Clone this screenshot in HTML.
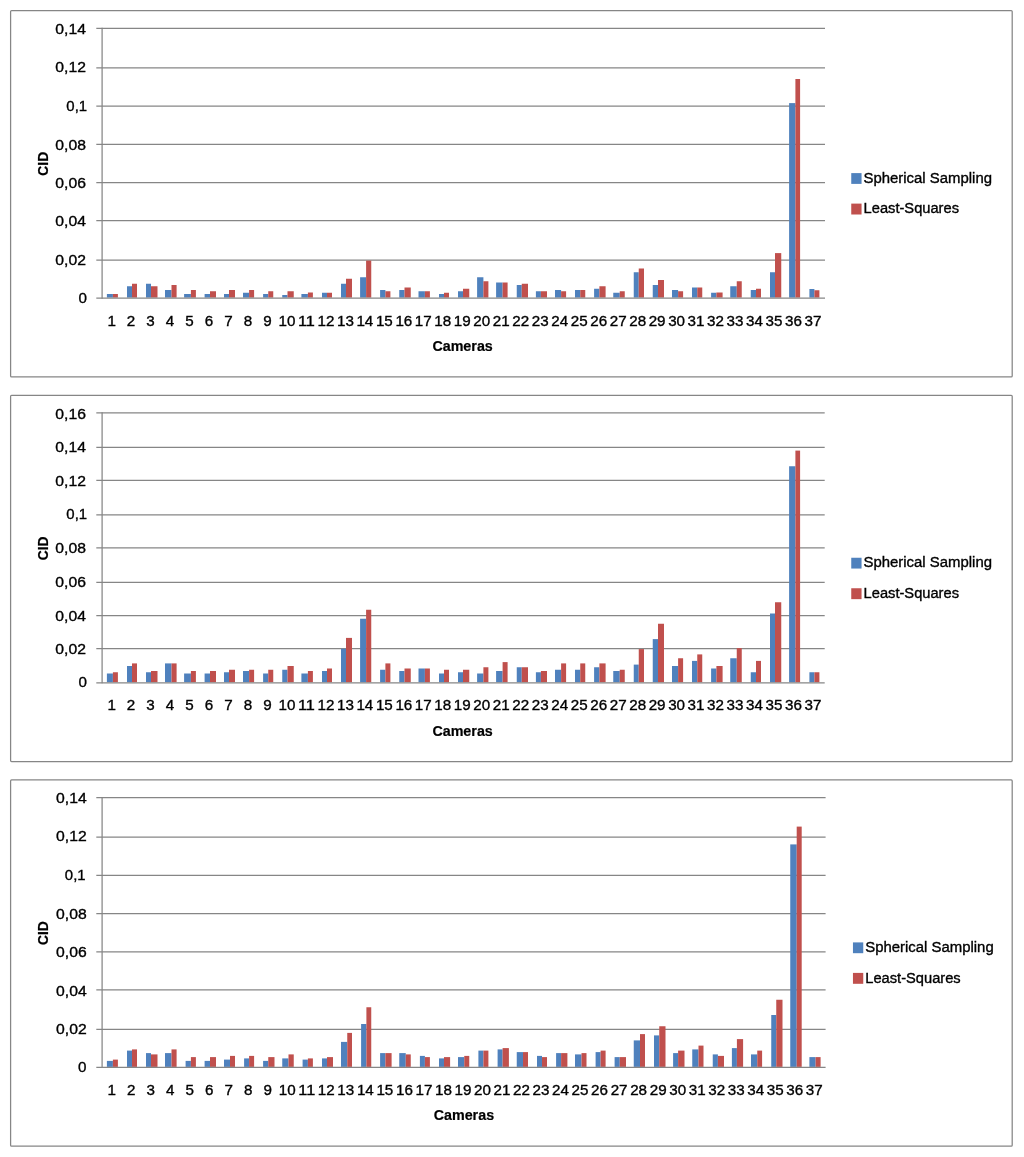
<!DOCTYPE html>
<html lang="en"><head><meta charset="utf-8"><title>CID per camera</title>
<style>
html,body{margin:0;padding:0;background:#fff}
body{width:1024px;height:1157px;overflow:hidden}
svg{display:block}
text{font-family:"Liberation Sans",sans-serif;font-size:14.7px;fill:#000;stroke:#000;stroke-width:0.35px}
.b{stroke-width:0.2px}
.b{font-weight:bold}
.g line,.g rect{stroke:#868686;stroke-width:1.25;fill:none}
.s1 rect{fill:#4F81BD}
.s2 rect{fill:#C0504D}
</style></head><body>
<svg width="1024" height="1157" viewBox="0 0 1024 1157">
<rect width="1024" height="1157" fill="#fff"/>
<g id="chart1">
<g class="g">
<rect x="10.6" y="10.6" width="1001.6" height="366.3" rx="1"/>
<line x1="96.3" y1="28.3" x2="825" y2="28.3"/>
<line x1="96.3" y1="67.8" x2="825" y2="67.8"/>
<line x1="96.3" y1="106.1" x2="825" y2="106.1"/>
<line x1="96.3" y1="144.25" x2="825" y2="144.25"/>
<line x1="96.3" y1="182.5" x2="825" y2="182.5"/>
<line x1="96.3" y1="220.6" x2="825" y2="220.6"/>
<line x1="96.3" y1="260.1" x2="825" y2="260.1"/>
<line x1="102.1" y1="27.7" x2="102.1" y2="298.7"/>
</g>
<g class="s1"><rect x="106.9" y="294" width="6" height="3.6"/><rect x="127" y="286.25" width="5" height="11.35"/><rect x="146" y="283.75" width="5" height="13.85"/><rect x="165" y="290" width="6.5" height="7.6"/><rect x="184.1" y="294" width="6.8" height="3.6"/><rect x="204.6" y="294" width="5.4" height="3.6"/><rect x="224" y="294" width="5" height="3.6"/><rect x="243" y="292.75" width="6.1" height="4.85"/><rect x="263.1" y="294" width="5.15" height="3.6"/><rect x="282.25" y="295" width="5.25" height="2.6"/><rect x="301.4" y="294" width="6.5" height="3.6"/><rect x="322" y="292.75" width="5" height="4.85"/><rect x="341" y="283.75" width="5" height="13.85"/><rect x="360.1" y="277.25" width="6" height="20.35"/><rect x="380.1" y="290" width="5.3" height="7.6"/><rect x="399.25" y="290" width="5.25" height="7.6"/><rect x="418.5" y="291.25" width="6.4" height="6.35"/><rect x="439" y="294" width="5" height="3.6"/><rect x="458" y="291.25" width="5" height="6.35"/><rect x="477.1" y="277.25" width="6.3" height="20.35"/><rect x="496.1" y="282.5" width="6.5" height="15.1"/><rect x="516.75" y="285" width="5" height="12.6"/><rect x="535.9" y="291.25" width="5" height="6.35"/><rect x="555" y="290" width="6.1" height="7.6"/><rect x="575" y="290" width="5.25" height="7.6"/><rect x="594.1" y="288.75" width="5.3" height="8.85"/><rect x="613.25" y="292.75" width="6.5" height="4.85"/><rect x="633.75" y="272.25" width="5" height="25.35"/><rect x="652.75" y="285" width="5.25" height="12.6"/><rect x="672" y="290" width="6.1" height="7.6"/><rect x="692" y="287.5" width="5.25" height="10.1"/><rect x="711.1" y="292.75" width="5.3" height="4.85"/><rect x="730.25" y="286.25" width="6.5" height="11.35"/><rect x="750.75" y="290" width="5.25" height="7.6"/><rect x="770" y="272.25" width="5" height="25.35"/><rect x="789.1" y="103.1" width="6.3" height="194.5"/><rect x="809.4" y="289" width="5" height="8.6"/></g>
<g class="s2"><rect x="112.9" y="294" width="5" height="3.6"/><rect x="132" y="283.75" width="5" height="13.85"/><rect x="151" y="286.25" width="6.5" height="11.35"/><rect x="171.5" y="285" width="5.1" height="12.6"/><rect x="190.9" y="290" width="5" height="7.6"/><rect x="210" y="291.25" width="6" height="6.35"/><rect x="229" y="290" width="6" height="7.6"/><rect x="249.1" y="290" width="5" height="7.6"/><rect x="268.25" y="291.25" width="5" height="6.35"/><rect x="287.5" y="291.25" width="6.25" height="6.35"/><rect x="307.9" y="292.5" width="5" height="5.1"/><rect x="327" y="292.75" width="5" height="4.85"/><rect x="346" y="278.75" width="6" height="18.85"/><rect x="366.1" y="260.6" width="5.15" height="37"/><rect x="385.4" y="291.25" width="5" height="6.35"/><rect x="404.5" y="287.5" width="6.25" height="10.1"/><rect x="424.9" y="291.25" width="5" height="6.35"/><rect x="444" y="292.75" width="5" height="4.85"/><rect x="463" y="288.75" width="6.25" height="8.85"/><rect x="483.4" y="281.25" width="5" height="16.35"/><rect x="502.6" y="282.5" width="5" height="15.1"/><rect x="521.75" y="283.75" width="6.25" height="13.85"/><rect x="540.9" y="291.25" width="6.1" height="6.35"/><rect x="561.1" y="291.25" width="5" height="6.35"/><rect x="580.25" y="290" width="5" height="7.6"/><rect x="599.4" y="286.25" width="6.2" height="11.35"/><rect x="619.75" y="291.25" width="5" height="6.35"/><rect x="638.75" y="268.5" width="5.25" height="29.1"/><rect x="658" y="280" width="6" height="17.6"/><rect x="678.1" y="291.25" width="5" height="6.35"/><rect x="697.25" y="287.5" width="5" height="10.1"/><rect x="716.4" y="292.5" width="6.2" height="5.1"/><rect x="736.75" y="281.25" width="5" height="16.35"/><rect x="756" y="288.75" width="5" height="8.85"/><rect x="775" y="253.1" width="6.25" height="44.5"/><rect x="795.4" y="79" width="4.7" height="218.6"/><rect x="814.4" y="290.25" width="5" height="7.35"/></g>
<g class="g"><line x1="96.3" y1="298.1" x2="825" y2="298.1"/></g>
<g text-anchor="end">
<text x="85.9" y="34" textLength="30.6" lengthAdjust="spacingAndGlyphs">0,14</text>
<text x="85.9" y="72.3" textLength="30.6" lengthAdjust="spacingAndGlyphs">0,12</text>
<text x="87.1" y="110.6" textLength="20.75" lengthAdjust="spacingAndGlyphs">0,1</text>
<text x="85.9" y="149.9" textLength="30.6" lengthAdjust="spacingAndGlyphs">0,08</text>
<text x="85.9" y="187.8" textLength="30.6" lengthAdjust="spacingAndGlyphs">0,06</text>
<text x="85.9" y="226.25" textLength="30.6" lengthAdjust="spacingAndGlyphs">0,04</text>
<text x="85.9" y="264.75" textLength="30.6" lengthAdjust="spacingAndGlyphs">0,02</text>
<text x="87" y="302.5" textLength="8.45" lengthAdjust="spacingAndGlyphs">0</text>
</g>
<g text-anchor="middle">
<text x="111.6" y="325.6" textLength="8.45" lengthAdjust="spacingAndGlyphs">1</text>
<text x="131.08" y="325.6" textLength="8.45" lengthAdjust="spacingAndGlyphs">2</text>
<text x="150.57" y="325.6" textLength="8.45" lengthAdjust="spacingAndGlyphs">3</text>
<text x="170.05" y="325.6" textLength="8.45" lengthAdjust="spacingAndGlyphs">4</text>
<text x="189.53" y="325.6" textLength="8.45" lengthAdjust="spacingAndGlyphs">5</text>
<text x="209.02" y="325.6" textLength="8.45" lengthAdjust="spacingAndGlyphs">6</text>
<text x="228.5" y="325.6" textLength="8.45" lengthAdjust="spacingAndGlyphs">7</text>
<text x="247.98" y="325.6" textLength="8.45" lengthAdjust="spacingAndGlyphs">8</text>
<text x="267.47" y="325.6" textLength="8.45" lengthAdjust="spacingAndGlyphs">9</text>
<text x="286.95" y="325.6" textLength="16.9" lengthAdjust="spacingAndGlyphs">10</text>
<text x="306.43" y="325.6" textLength="16.9" lengthAdjust="spacingAndGlyphs">11</text>
<text x="325.91" y="325.6" textLength="16.9" lengthAdjust="spacingAndGlyphs">12</text>
<text x="345.4" y="325.6" textLength="16.9" lengthAdjust="spacingAndGlyphs">13</text>
<text x="364.88" y="325.6" textLength="16.9" lengthAdjust="spacingAndGlyphs">14</text>
<text x="384.36" y="325.6" textLength="16.9" lengthAdjust="spacingAndGlyphs">15</text>
<text x="403.85" y="325.6" textLength="16.9" lengthAdjust="spacingAndGlyphs">16</text>
<text x="423.33" y="325.6" textLength="16.9" lengthAdjust="spacingAndGlyphs">17</text>
<text x="442.81" y="325.6" textLength="16.9" lengthAdjust="spacingAndGlyphs">18</text>
<text x="462.3" y="325.6" textLength="16.9" lengthAdjust="spacingAndGlyphs">19</text>
<text x="481.78" y="325.6" textLength="16.9" lengthAdjust="spacingAndGlyphs">20</text>
<text x="501.26" y="325.6" textLength="16.9" lengthAdjust="spacingAndGlyphs">21</text>
<text x="520.74" y="325.6" textLength="16.9" lengthAdjust="spacingAndGlyphs">22</text>
<text x="540.23" y="325.6" textLength="16.9" lengthAdjust="spacingAndGlyphs">23</text>
<text x="559.71" y="325.6" textLength="16.9" lengthAdjust="spacingAndGlyphs">24</text>
<text x="579.19" y="325.6" textLength="16.9" lengthAdjust="spacingAndGlyphs">25</text>
<text x="598.68" y="325.6" textLength="16.9" lengthAdjust="spacingAndGlyphs">26</text>
<text x="618.16" y="325.6" textLength="16.9" lengthAdjust="spacingAndGlyphs">27</text>
<text x="637.64" y="325.6" textLength="16.9" lengthAdjust="spacingAndGlyphs">28</text>
<text x="657.13" y="325.6" textLength="16.9" lengthAdjust="spacingAndGlyphs">29</text>
<text x="676.61" y="325.6" textLength="16.9" lengthAdjust="spacingAndGlyphs">30</text>
<text x="696.09" y="325.6" textLength="16.9" lengthAdjust="spacingAndGlyphs">31</text>
<text x="715.57" y="325.6" textLength="16.9" lengthAdjust="spacingAndGlyphs">32</text>
<text x="735.06" y="325.6" textLength="16.9" lengthAdjust="spacingAndGlyphs">33</text>
<text x="754.54" y="325.6" textLength="16.9" lengthAdjust="spacingAndGlyphs">34</text>
<text x="774.02" y="325.6" textLength="16.9" lengthAdjust="spacingAndGlyphs">35</text>
<text x="793.51" y="325.6" textLength="16.9" lengthAdjust="spacingAndGlyphs">36</text>
<text x="812.99" y="325.6" textLength="16.9" lengthAdjust="spacingAndGlyphs">37</text>
</g>
<text class="b" text-anchor="middle" x="462.6" y="351" textLength="60.4" lengthAdjust="spacingAndGlyphs">Cameras</text>
<text class="b" text-anchor="middle" transform="translate(47.6 163.8) rotate(-90)" textLength="23.8" lengthAdjust="spacingAndGlyphs">CID</text>
<rect x="851.25" y="173.1" width="10.3" height="10.8" fill="#4F81BD"/>
<rect x="851.25" y="203.6" width="10.3" height="10.9" fill="#C0504D"/>
<text x="863.5" y="182.8" textLength="128.5" lengthAdjust="spacingAndGlyphs">Spherical Sampling</text>
<text x="863.6" y="213.3" textLength="95.4" lengthAdjust="spacingAndGlyphs">Least-Squares</text>
</g>
<g id="chart2">
<g class="g">
<rect x="10.6" y="395.25" width="1001.6" height="366.3" rx="1"/>
<line x1="96.3" y1="412.9" x2="824.7" y2="412.9"/>
<line x1="96.3" y1="447.4" x2="824.7" y2="447.4"/>
<line x1="96.3" y1="480.4" x2="824.7" y2="480.4"/>
<line x1="96.3" y1="514.8" x2="824.7" y2="514.8"/>
<line x1="96.3" y1="547.9" x2="824.7" y2="547.9"/>
<line x1="96.3" y1="582.4" x2="824.7" y2="582.4"/>
<line x1="96.3" y1="615.5" x2="824.7" y2="615.5"/>
<line x1="96.3" y1="648.6" x2="824.7" y2="648.6"/>
<line x1="102.1" y1="412.3" x2="102.1" y2="683.35"/>
</g>
<g class="s1"><rect x="106.9" y="673.5" width="6" height="8.75"/><rect x="127" y="666" width="5" height="16.25"/><rect x="146" y="672.25" width="5" height="10"/><rect x="165" y="663.4" width="6.5" height="18.85"/><rect x="184.1" y="673.5" width="6.8" height="8.75"/><rect x="204.6" y="673.5" width="5.4" height="8.75"/><rect x="224" y="672.25" width="5" height="10"/><rect x="243" y="671" width="6.1" height="11.25"/><rect x="263.1" y="673.5" width="5.15" height="8.75"/><rect x="282.25" y="669.75" width="5.25" height="12.5"/><rect x="301.4" y="673.5" width="6.5" height="8.75"/><rect x="322" y="671" width="5" height="11.25"/><rect x="341" y="648.75" width="5" height="33.5"/><rect x="360.1" y="618.75" width="6" height="63.5"/><rect x="380.1" y="669.75" width="5.3" height="12.5"/><rect x="399.25" y="671" width="5.25" height="11.25"/><rect x="418.5" y="668.5" width="6.4" height="13.75"/><rect x="439" y="673.5" width="5" height="8.75"/><rect x="458" y="672.25" width="5" height="10"/><rect x="477.1" y="673.5" width="6.3" height="8.75"/><rect x="496.1" y="671" width="6.5" height="11.25"/><rect x="516.75" y="667.25" width="5" height="15"/><rect x="535.9" y="672.25" width="5" height="10"/><rect x="555" y="669.75" width="6.1" height="12.5"/><rect x="575" y="669.75" width="5.25" height="12.5"/><rect x="594.1" y="667.25" width="5.3" height="15"/><rect x="613.25" y="671" width="6.5" height="11.25"/><rect x="633.75" y="664.6" width="5" height="17.65"/><rect x="652.75" y="639.1" width="5.25" height="43.15"/><rect x="672" y="666" width="6.1" height="16.25"/><rect x="692" y="660.9" width="5.25" height="21.35"/><rect x="711.1" y="668.5" width="5.3" height="13.75"/><rect x="730.25" y="658.25" width="6.5" height="24"/><rect x="750.75" y="672.25" width="5.25" height="10"/><rect x="770" y="613.5" width="5" height="68.75"/><rect x="789.1" y="466.25" width="6.3" height="216"/><rect x="809.4" y="672.25" width="5" height="10"/></g>
<g class="s2"><rect x="112.9" y="672.25" width="5" height="10"/><rect x="132" y="663.4" width="5" height="18.85"/><rect x="151" y="671" width="6.5" height="11.25"/><rect x="171.5" y="663.4" width="5.1" height="18.85"/><rect x="190.9" y="671" width="5" height="11.25"/><rect x="210" y="671" width="6" height="11.25"/><rect x="229" y="669.75" width="6" height="12.5"/><rect x="249.1" y="669.75" width="5" height="12.5"/><rect x="268.25" y="669.75" width="5" height="12.5"/><rect x="287.5" y="666" width="6.25" height="16.25"/><rect x="307.9" y="671" width="5" height="11.25"/><rect x="327" y="668.5" width="5" height="13.75"/><rect x="346" y="637.9" width="6" height="44.35"/><rect x="366.1" y="609.75" width="5.15" height="72.5"/><rect x="385.4" y="663.4" width="5" height="18.85"/><rect x="404.5" y="668.5" width="6.25" height="13.75"/><rect x="424.9" y="668.5" width="5" height="13.75"/><rect x="444" y="669.75" width="5" height="12.5"/><rect x="463" y="669.75" width="6.25" height="12.5"/><rect x="483.4" y="667.25" width="5" height="15"/><rect x="502.6" y="662.1" width="5" height="20.15"/><rect x="521.75" y="667.25" width="6.25" height="15"/><rect x="540.9" y="671" width="6.1" height="11.25"/><rect x="561.1" y="663.4" width="5" height="18.85"/><rect x="580.25" y="663.4" width="5" height="18.85"/><rect x="599.4" y="663.4" width="6.2" height="18.85"/><rect x="619.75" y="669.75" width="5" height="12.5"/><rect x="638.75" y="649.1" width="5.25" height="33.15"/><rect x="658" y="623.75" width="6" height="58.5"/><rect x="678.1" y="658.25" width="5" height="24"/><rect x="697.25" y="654.4" width="5" height="27.85"/><rect x="716.4" y="666" width="6.2" height="16.25"/><rect x="736.75" y="648.1" width="5" height="34.15"/><rect x="756" y="660.9" width="5" height="21.35"/><rect x="775" y="602.25" width="6.25" height="80"/><rect x="795.4" y="450.6" width="4.7" height="231.65"/><rect x="814.4" y="672.25" width="5" height="10"/></g>
<g class="g"><line x1="96.3" y1="682.75" x2="824.7" y2="682.75"/></g>
<g text-anchor="end">
<text x="85.9" y="418.5" textLength="30.6" lengthAdjust="spacingAndGlyphs">0,16</text>
<text x="85.9" y="451.9" textLength="30.6" lengthAdjust="spacingAndGlyphs">0,14</text>
<text x="85.9" y="486.25" textLength="30.6" lengthAdjust="spacingAndGlyphs">0,12</text>
<text x="87.1" y="519.3" textLength="20.75" lengthAdjust="spacingAndGlyphs">0,1</text>
<text x="85.9" y="552.6" textLength="30.6" lengthAdjust="spacingAndGlyphs">0,08</text>
<text x="85.9" y="586.7" textLength="30.6" lengthAdjust="spacingAndGlyphs">0,06</text>
<text x="85.9" y="620.9" textLength="30.6" lengthAdjust="spacingAndGlyphs">0,04</text>
<text x="85.9" y="654.4" textLength="30.6" lengthAdjust="spacingAndGlyphs">0,02</text>
<text x="87" y="687.1" textLength="8.45" lengthAdjust="spacingAndGlyphs">0</text>
</g>
<g text-anchor="middle">
<text x="111.6" y="710.25" textLength="8.45" lengthAdjust="spacingAndGlyphs">1</text>
<text x="131.08" y="710.25" textLength="8.45" lengthAdjust="spacingAndGlyphs">2</text>
<text x="150.57" y="710.25" textLength="8.45" lengthAdjust="spacingAndGlyphs">3</text>
<text x="170.05" y="710.25" textLength="8.45" lengthAdjust="spacingAndGlyphs">4</text>
<text x="189.53" y="710.25" textLength="8.45" lengthAdjust="spacingAndGlyphs">5</text>
<text x="209.02" y="710.25" textLength="8.45" lengthAdjust="spacingAndGlyphs">6</text>
<text x="228.5" y="710.25" textLength="8.45" lengthAdjust="spacingAndGlyphs">7</text>
<text x="247.98" y="710.25" textLength="8.45" lengthAdjust="spacingAndGlyphs">8</text>
<text x="267.47" y="710.25" textLength="8.45" lengthAdjust="spacingAndGlyphs">9</text>
<text x="286.95" y="710.25" textLength="16.9" lengthAdjust="spacingAndGlyphs">10</text>
<text x="306.43" y="710.25" textLength="16.9" lengthAdjust="spacingAndGlyphs">11</text>
<text x="325.91" y="710.25" textLength="16.9" lengthAdjust="spacingAndGlyphs">12</text>
<text x="345.4" y="710.25" textLength="16.9" lengthAdjust="spacingAndGlyphs">13</text>
<text x="364.88" y="710.25" textLength="16.9" lengthAdjust="spacingAndGlyphs">14</text>
<text x="384.36" y="710.25" textLength="16.9" lengthAdjust="spacingAndGlyphs">15</text>
<text x="403.85" y="710.25" textLength="16.9" lengthAdjust="spacingAndGlyphs">16</text>
<text x="423.33" y="710.25" textLength="16.9" lengthAdjust="spacingAndGlyphs">17</text>
<text x="442.81" y="710.25" textLength="16.9" lengthAdjust="spacingAndGlyphs">18</text>
<text x="462.3" y="710.25" textLength="16.9" lengthAdjust="spacingAndGlyphs">19</text>
<text x="481.78" y="710.25" textLength="16.9" lengthAdjust="spacingAndGlyphs">20</text>
<text x="501.26" y="710.25" textLength="16.9" lengthAdjust="spacingAndGlyphs">21</text>
<text x="520.74" y="710.25" textLength="16.9" lengthAdjust="spacingAndGlyphs">22</text>
<text x="540.23" y="710.25" textLength="16.9" lengthAdjust="spacingAndGlyphs">23</text>
<text x="559.71" y="710.25" textLength="16.9" lengthAdjust="spacingAndGlyphs">24</text>
<text x="579.19" y="710.25" textLength="16.9" lengthAdjust="spacingAndGlyphs">25</text>
<text x="598.68" y="710.25" textLength="16.9" lengthAdjust="spacingAndGlyphs">26</text>
<text x="618.16" y="710.25" textLength="16.9" lengthAdjust="spacingAndGlyphs">27</text>
<text x="637.64" y="710.25" textLength="16.9" lengthAdjust="spacingAndGlyphs">28</text>
<text x="657.13" y="710.25" textLength="16.9" lengthAdjust="spacingAndGlyphs">29</text>
<text x="676.61" y="710.25" textLength="16.9" lengthAdjust="spacingAndGlyphs">30</text>
<text x="696.09" y="710.25" textLength="16.9" lengthAdjust="spacingAndGlyphs">31</text>
<text x="715.57" y="710.25" textLength="16.9" lengthAdjust="spacingAndGlyphs">32</text>
<text x="735.06" y="710.25" textLength="16.9" lengthAdjust="spacingAndGlyphs">33</text>
<text x="754.54" y="710.25" textLength="16.9" lengthAdjust="spacingAndGlyphs">34</text>
<text x="774.02" y="710.25" textLength="16.9" lengthAdjust="spacingAndGlyphs">35</text>
<text x="793.51" y="710.25" textLength="16.9" lengthAdjust="spacingAndGlyphs">36</text>
<text x="812.99" y="710.25" textLength="16.9" lengthAdjust="spacingAndGlyphs">37</text>
</g>
<text class="b" text-anchor="middle" x="462.6" y="735.65" textLength="60.4" lengthAdjust="spacingAndGlyphs">Cameras</text>
<text class="b" text-anchor="middle" transform="translate(47.6 548.43) rotate(-90)" textLength="23.8" lengthAdjust="spacingAndGlyphs">CID</text>
<rect x="851.25" y="557.75" width="10.3" height="10.8" fill="#4F81BD"/>
<rect x="851.25" y="588.25" width="10.3" height="10.9" fill="#C0504D"/>
<text x="863.5" y="567.45" textLength="128.5" lengthAdjust="spacingAndGlyphs">Spherical Sampling</text>
<text x="863.6" y="597.95" textLength="95.4" lengthAdjust="spacingAndGlyphs">Least-Squares</text>
</g>
<g id="chart3">
<g class="g">
<rect x="10.6" y="779.9" width="1001.6" height="366.3" rx="1"/>
<line x1="96.3" y1="797.6" x2="825.6" y2="797.6"/>
<line x1="96.3" y1="837.1" x2="825.6" y2="837.1"/>
<line x1="96.3" y1="875.4" x2="825.6" y2="875.4"/>
<line x1="96.3" y1="913.55" x2="825.6" y2="913.55"/>
<line x1="96.3" y1="951.8" x2="825.6" y2="951.8"/>
<line x1="96.3" y1="989.9" x2="825.6" y2="989.9"/>
<line x1="96.3" y1="1029.4" x2="825.6" y2="1029.4"/>
<line x1="102.1" y1="797" x2="102.1" y2="1068"/>
</g>
<g class="s1"><rect x="106.9" y="1060.9" width="6" height="6"/><rect x="127" y="1050.6" width="5" height="16.3"/><rect x="146" y="1053.1" width="5" height="13.8"/><rect x="165" y="1053.1" width="6.5" height="13.8"/><rect x="185.6" y="1060.9" width="5.3" height="6"/><rect x="204.6" y="1060.9" width="5.4" height="6"/><rect x="224" y="1059.6" width="6" height="7.3"/><rect x="244.1" y="1058.4" width="5" height="8.5"/><rect x="263.1" y="1060.9" width="5.15" height="6"/><rect x="282.25" y="1058.4" width="6.25" height="8.5"/><rect x="302.6" y="1059.6" width="5.3" height="7.3"/><rect x="322" y="1058.4" width="5" height="8.5"/><rect x="341" y="1041.9" width="6.25" height="25"/><rect x="361.1" y="1024" width="5.3" height="42.9"/><rect x="380.1" y="1053.1" width="5.3" height="13.8"/><rect x="399.25" y="1053.1" width="6.5" height="13.8"/><rect x="419.9" y="1055.9" width="5" height="11"/><rect x="439" y="1058.4" width="5" height="8.5"/><rect x="458" y="1057.1" width="6.25" height="9.8"/><rect x="478.4" y="1050.6" width="5" height="16.3"/><rect x="497.6" y="1049.4" width="5" height="17.5"/><rect x="516.75" y="1052.1" width="6.25" height="14.8"/><rect x="537" y="1055.9" width="5" height="11"/><rect x="556.1" y="1053.1" width="5" height="13.8"/><rect x="575" y="1054.4" width="6.5" height="12.5"/><rect x="595.6" y="1052.1" width="5" height="14.8"/><rect x="614.6" y="1057.1" width="5.15" height="9.8"/><rect x="633.75" y="1040.4" width="6.25" height="26.5"/><rect x="654" y="1035.4" width="5.25" height="31.5"/><rect x="673.1" y="1053.1" width="5" height="13.8"/><rect x="692.25" y="1049.4" width="6.25" height="17.5"/><rect x="712.75" y="1054.4" width="5.15" height="12.5"/><rect x="731.9" y="1048.1" width="5" height="18.8"/><rect x="751" y="1054.4" width="6.25" height="12.5"/><rect x="771.25" y="1015" width="5" height="51.9"/><rect x="790.25" y="844.4" width="6.45" height="222.5"/><rect x="809.4" y="1057.1" width="6.2" height="9.8"/></g>
<g class="s2"><rect x="112.9" y="1059.6" width="5" height="7.3"/><rect x="132" y="1049.4" width="5" height="17.5"/><rect x="151" y="1054.4" width="6.5" height="12.5"/><rect x="171.5" y="1049.4" width="5.1" height="17.5"/><rect x="190.9" y="1057.1" width="5" height="9.8"/><rect x="210" y="1057.1" width="6" height="9.8"/><rect x="230" y="1055.9" width="5" height="11"/><rect x="249.1" y="1055.9" width="5" height="11"/><rect x="268.25" y="1057.1" width="6.25" height="9.8"/><rect x="288.5" y="1054.4" width="5.25" height="12.5"/><rect x="307.9" y="1058.4" width="5" height="8.5"/><rect x="327" y="1057.1" width="6" height="9.8"/><rect x="347.25" y="1032.9" width="4.75" height="34"/><rect x="366.4" y="1007.25" width="4.85" height="59.65"/><rect x="385.4" y="1053.1" width="6.2" height="13.8"/><rect x="405.75" y="1054.4" width="5" height="12.5"/><rect x="424.9" y="1057.1" width="5" height="9.8"/><rect x="444" y="1057.1" width="6.1" height="9.8"/><rect x="464.25" y="1055.9" width="5" height="11"/><rect x="483.4" y="1050.6" width="5" height="16.3"/><rect x="502.6" y="1048.1" width="6.3" height="18.8"/><rect x="523" y="1052.1" width="5" height="14.8"/><rect x="542" y="1057.1" width="5" height="9.8"/><rect x="561.1" y="1053.1" width="6.3" height="13.8"/><rect x="581.5" y="1053.1" width="5" height="13.8"/><rect x="600.6" y="1050.6" width="5" height="16.3"/><rect x="619.75" y="1057.1" width="6.25" height="9.8"/><rect x="640" y="1034.1" width="5" height="32.8"/><rect x="659.25" y="1026.25" width="6.25" height="40.65"/><rect x="678.1" y="1050.6" width="6.4" height="16.3"/><rect x="698.5" y="1045.6" width="5" height="21.3"/><rect x="717.9" y="1055.9" width="6.1" height="11"/><rect x="736.9" y="1039.1" width="6.2" height="27.8"/><rect x="757.25" y="1050.6" width="4.85" height="16.3"/><rect x="776.25" y="999.75" width="6.25" height="67.15"/><rect x="796.7" y="826.6" width="5" height="240.3"/><rect x="815.6" y="1057.1" width="5" height="9.8"/></g>
<g class="g"><line x1="96.3" y1="1067.4" x2="825.6" y2="1067.4"/></g>
<g text-anchor="end">
<text x="86.7" y="803.1" textLength="30.6" lengthAdjust="spacingAndGlyphs">0,14</text>
<text x="86.7" y="841.3" textLength="30.6" lengthAdjust="spacingAndGlyphs">0,12</text>
<text x="85.6" y="880.3" textLength="20.75" lengthAdjust="spacingAndGlyphs">0,1</text>
<text x="86.7" y="919.2" textLength="30.6" lengthAdjust="spacingAndGlyphs">0,08</text>
<text x="86.7" y="957.1" textLength="30.6" lengthAdjust="spacingAndGlyphs">0,06</text>
<text x="86.7" y="995.55" textLength="30.6" lengthAdjust="spacingAndGlyphs">0,04</text>
<text x="86.7" y="1034.05" textLength="30.6" lengthAdjust="spacingAndGlyphs">0,02</text>
<text x="86.4" y="1071.7" textLength="8.45" lengthAdjust="spacingAndGlyphs">0</text>
</g>
<g text-anchor="middle">
<text x="111.6" y="1094.9" textLength="8.45" lengthAdjust="spacingAndGlyphs">1</text>
<text x="131.12" y="1094.9" textLength="8.45" lengthAdjust="spacingAndGlyphs">2</text>
<text x="150.64" y="1094.9" textLength="8.45" lengthAdjust="spacingAndGlyphs">3</text>
<text x="170.16" y="1094.9" textLength="8.45" lengthAdjust="spacingAndGlyphs">4</text>
<text x="189.68" y="1094.9" textLength="8.45" lengthAdjust="spacingAndGlyphs">5</text>
<text x="209.2" y="1094.9" textLength="8.45" lengthAdjust="spacingAndGlyphs">6</text>
<text x="228.72" y="1094.9" textLength="8.45" lengthAdjust="spacingAndGlyphs">7</text>
<text x="248.24" y="1094.9" textLength="8.45" lengthAdjust="spacingAndGlyphs">8</text>
<text x="267.75" y="1094.9" textLength="8.45" lengthAdjust="spacingAndGlyphs">9</text>
<text x="287.27" y="1094.9" textLength="16.9" lengthAdjust="spacingAndGlyphs">10</text>
<text x="306.79" y="1094.9" textLength="16.9" lengthAdjust="spacingAndGlyphs">11</text>
<text x="326.31" y="1094.9" textLength="16.9" lengthAdjust="spacingAndGlyphs">12</text>
<text x="345.83" y="1094.9" textLength="16.9" lengthAdjust="spacingAndGlyphs">13</text>
<text x="365.35" y="1094.9" textLength="16.9" lengthAdjust="spacingAndGlyphs">14</text>
<text x="384.87" y="1094.9" textLength="16.9" lengthAdjust="spacingAndGlyphs">15</text>
<text x="404.39" y="1094.9" textLength="16.9" lengthAdjust="spacingAndGlyphs">16</text>
<text x="423.91" y="1094.9" textLength="16.9" lengthAdjust="spacingAndGlyphs">17</text>
<text x="443.43" y="1094.9" textLength="16.9" lengthAdjust="spacingAndGlyphs">18</text>
<text x="462.95" y="1094.9" textLength="16.9" lengthAdjust="spacingAndGlyphs">19</text>
<text x="482.46" y="1094.9" textLength="16.9" lengthAdjust="spacingAndGlyphs">20</text>
<text x="501.98" y="1094.9" textLength="16.9" lengthAdjust="spacingAndGlyphs">21</text>
<text x="521.5" y="1094.9" textLength="16.9" lengthAdjust="spacingAndGlyphs">22</text>
<text x="541.02" y="1094.9" textLength="16.9" lengthAdjust="spacingAndGlyphs">23</text>
<text x="560.54" y="1094.9" textLength="16.9" lengthAdjust="spacingAndGlyphs">24</text>
<text x="580.06" y="1094.9" textLength="16.9" lengthAdjust="spacingAndGlyphs">25</text>
<text x="599.58" y="1094.9" textLength="16.9" lengthAdjust="spacingAndGlyphs">26</text>
<text x="619.1" y="1094.9" textLength="16.9" lengthAdjust="spacingAndGlyphs">27</text>
<text x="638.62" y="1094.9" textLength="16.9" lengthAdjust="spacingAndGlyphs">28</text>
<text x="658.14" y="1094.9" textLength="16.9" lengthAdjust="spacingAndGlyphs">29</text>
<text x="677.66" y="1094.9" textLength="16.9" lengthAdjust="spacingAndGlyphs">30</text>
<text x="697.17" y="1094.9" textLength="16.9" lengthAdjust="spacingAndGlyphs">31</text>
<text x="716.69" y="1094.9" textLength="16.9" lengthAdjust="spacingAndGlyphs">32</text>
<text x="736.21" y="1094.9" textLength="16.9" lengthAdjust="spacingAndGlyphs">33</text>
<text x="755.73" y="1094.9" textLength="16.9" lengthAdjust="spacingAndGlyphs">34</text>
<text x="775.25" y="1094.9" textLength="16.9" lengthAdjust="spacingAndGlyphs">35</text>
<text x="794.77" y="1094.9" textLength="16.9" lengthAdjust="spacingAndGlyphs">36</text>
<text x="814.29" y="1094.9" textLength="16.9" lengthAdjust="spacingAndGlyphs">37</text>
</g>
<text class="b" text-anchor="middle" x="463.9" y="1120.3" textLength="60.4" lengthAdjust="spacingAndGlyphs">Cameras</text>
<text class="b" text-anchor="middle" transform="translate(47.6 933.1) rotate(-90)" textLength="23.8" lengthAdjust="spacingAndGlyphs">CID</text>
<rect x="852.95" y="942.4" width="10.3" height="10.8" fill="#4F81BD"/>
<rect x="852.95" y="972.9" width="10.3" height="10.9" fill="#C0504D"/>
<text x="865.2" y="952.1" textLength="128.5" lengthAdjust="spacingAndGlyphs">Spherical Sampling</text>
<text x="865.3" y="982.6" textLength="95.4" lengthAdjust="spacingAndGlyphs">Least-Squares</text>
</g>
</svg></body></html>
